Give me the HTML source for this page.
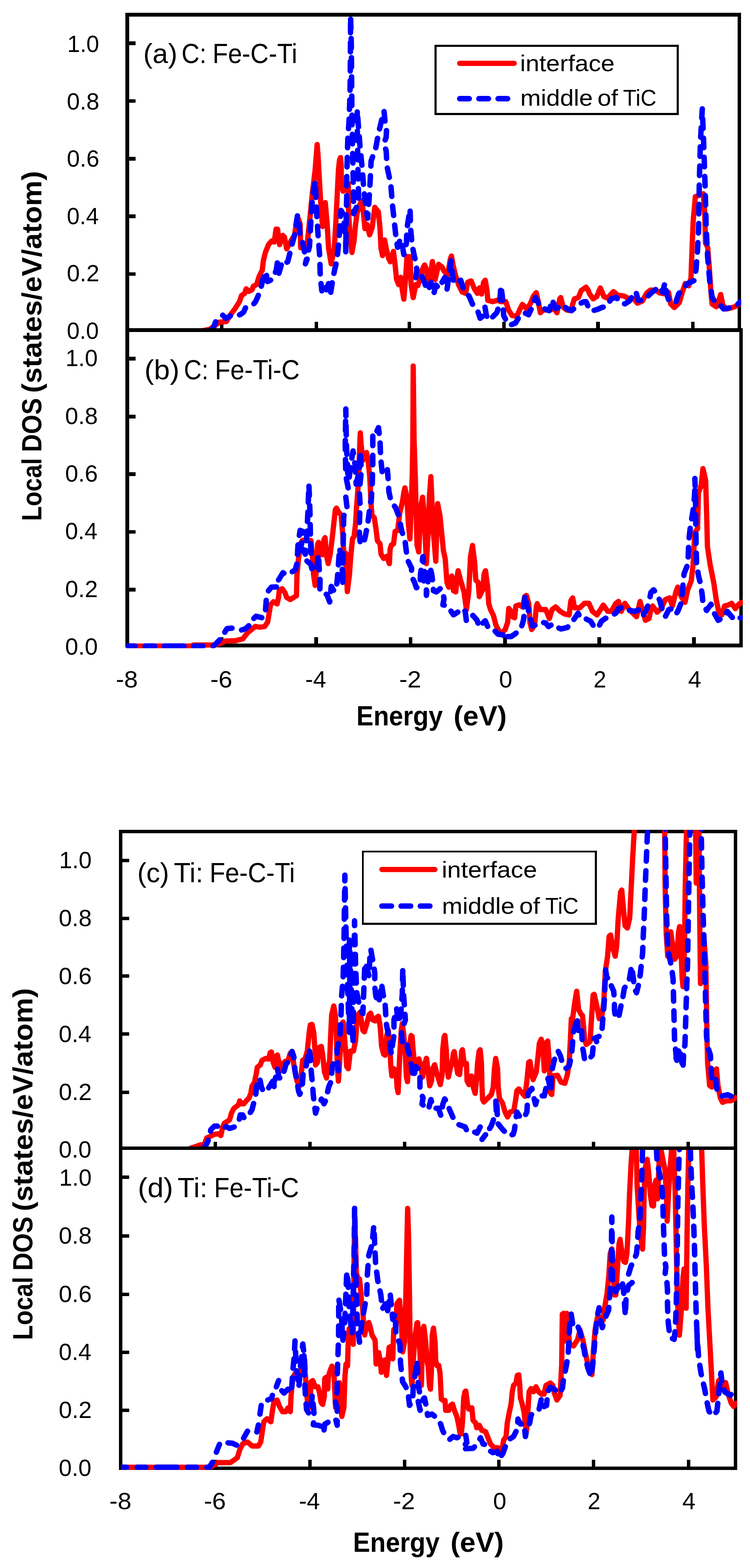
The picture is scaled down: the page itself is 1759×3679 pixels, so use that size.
<!DOCTYPE html>
<html lang="en"><head><meta charset="utf-8"><title>Local DOS</title>
<style>
html,body{margin:0;padding:0;background:#fff}
body{width:1759px;height:3679px;overflow:hidden}
svg{display:block}
text{font-family:"Liberation Sans",sans-serif;fill:#000}
.fr{fill:none;stroke:#000;stroke-linejoin:miter;shape-rendering:crispEdges}
.bg{fill:#fff;shape-rendering:crispEdges}
.t{stroke:#000;fill:none;shape-rendering:crispEdges}
.r{fill:none;stroke:#f00;stroke-width:12.4px;stroke-linejoin:round;stroke-linecap:round}
.b{fill:none;stroke:#00f;stroke-width:12.8px;stroke-linejoin:round;stroke-linecap:round;stroke-dasharray:22.5 22.5}
.s{stroke-dasharray:none}
</style></head><body>
<svg width="1759" height="3679" viewBox="0 0 1759 3679">
<rect x="0" y="0" width="1759" height="3679" fill="#fff"/>
<defs>
<clipPath id="cpa"><rect x="294.1" y="30.1" width="1444.2" height="748.7"/></clipPath>
<clipPath id="cpb"><rect x="296" y="770.1" width="1446.3" height="750.8"/></clipPath>
<clipPath id="cpc"><rect x="279.3" y="1947.2" width="1449.3" height="750.7"/></clipPath>
<clipPath id="cpd"><rect x="283.8" y="2697.9" width="1444.8" height="750.9"/></clipPath>
</defs>
<g id="panel-a" stroke-width="8.7">
<rect class="bg" x="294.1" y="30.1" width="1444.2" height="748.7"/>
<rect class="fr" x="298.5" y="34.5" width="1435.5" height="740"/>
<path class="t" d="M298.5 101.8h19.4M298.5 236.9h19.4M298.5 372.4h19.4M298.5 507.7h19.4M298.5 643h19.4M520 774.5v-19.5M742 774.5v-19.5M960 774.5v-19.5M1181.9 774.5v-19.5M1402.7 774.5v-19.5M1625 774.5v-19.5"/>
<g clip-path="url(#cpa)">
<path class="r" d="M472.7 776.2L480 775L492.2 772.5L504.3 764L514.1 756L531.1 754.3L539.7 739.7L550.6 725.1L561.6 708L566.4 693.4L573.7 688.5L577.4 677.6L583.5 683.7L590.8 680L594.4 671.5L601.7 667.8L607.8 648.4L615.1 633.7L617.6 611.8L622.4 592.4L629.7 574.1L637 565.6L643.1 568L647.5 537.6L650.9 537.6L655.8 574.1L663.1 552.2L667 555.8L672.4 583.8L682.1 565.6L690.6 552.2L695.5 521.7L700.4 514.4L704 526.6L705.1 581.4L713.6 581.4L720.9 568L727 509.6L733.1 448.7L739 400L741.9 363.5L743.8 339.1L745.8 363.5L749.9 436.5L753.6 497.4L756.5 531.5L759.7 497.4L762.8 475.5L767 521.7L770.6 582.6L776.7 619.1L784 582.6L787.7 521.7L791.3 448.7L793.7 400L796.2 375.7L798.6 369.6L800.1 385.4L800.6 428L804.7 448.7L809.6 439L816.9 430.2L817.4 497.4L820.5 546.1L825.4 592.4L830.3 565.6L833.9 526.6L837.6 499.8L843.7 480.4L848.5 470.6L852.2 497.4L855.8 536.4L860.7 526.6L866.8 551L872.9 533.9L879 486.4L887.5 497.4L891.1 533.9L893.6 582.6L897.2 599.7L902.1 563.1L905.7 582.6L911.8 607L915.5 614.3L922.8 589.9L926.4 619.1L930.1 655.7L935 667.8L939.8 650.8L943.5 680L947.1 701.9L952 643.5L954.4 602.1L961.7 602.1L964.2 667.8L969.1 698.3L975.1 667.8L980 670.3L984.9 655.7L991 631.3L995.8 621.6L1000 631.3L1002.7 652.6L1007.6 662.3L1014.1 613.6L1020.6 655.8L1028.7 620.1L1036.8 626.6L1041.7 636.4L1049.8 646.1L1056.3 607.1L1058.9 600.6L1062.8 623.4L1069.3 649.4L1075.8 668.8L1083.9 685.1L1092 688.3L1096.9 662.3L1105 659.1L1113.1 678.6L1119.6 688.3L1124.5 675.3L1129.4 689.9L1134.2 662.3L1138.1 657.5L1142.3 681.8L1144 704.5L1155.3 707.8L1166.7 704.5L1174.8 707.8L1186.2 707.8L1192.7 727.3L1200.8 740.3L1212.1 741.9L1218.6 727.3L1225.1 714.3L1234.9 724L1243 714.3L1251.1 694.8L1257.6 686.7L1262.5 707.8L1267.3 733.8L1273.8 727.3L1288.4 727.3L1299.8 724L1306.3 733.8L1312.8 701.3L1315.1 698.1L1320.9 720.8L1329 727.3L1338.8 728.9L1346.9 701.3L1356.6 698.1L1363.1 681.8L1374.5 673.7L1380 681.8L1382.5 689.2L1391 701.1L1399.5 696L1408 675.6L1416.5 696L1425 699.4L1438.6 684.1L1448.8 692.6L1462.4 694.3L1476.1 701.1L1486.3 701.1L1494.8 711.3L1506.7 706.2L1516.9 687.5L1525.4 680.7L1537.3 680.7L1547.5 687.5L1557.7 689.2L1567.9 685.8L1573 713L1581.5 721.5L1593.4 709.6L1600.2 685.8L1607 665.4L1615.5 670.5L1620.6 651.8L1622.3 604.1L1625.7 519.1L1630.8 461.3L1641 457.9L1649.5 454.5L1652.9 502.1L1654.6 570.1L1659.7 580.3L1663.1 621.2L1666.5 672.2L1669.9 713L1680.1 719.8L1685.2 706.2L1690.3 690.9L1695.4 716.4L1703.9 724.9L1712.4 723.2L1722.7 719.8L1734.6 713"/>
<path class="b" d="M494.6 773.8L499.5 770.1L506.8 753.1L514.1 745.8L522.6 739.7L529.9 747L543.3 739.7L553 740.9L562.8 738.4L571.3 732.4L576.2 721.4L584.7 719L592 716.5L599.3 708L604.2 697.1L609 684.9L611.5 677.6L616.4 655.7L623.7 637.4L627.3 660.5L633.4 658.1L639.5 654.4L648 633.7L650.4 616.7L654.1 641.1L662.6 611.8L669.9 616.7L674.8 614.3L679.7 594.8L683.3 580.2L685.7 570.4L691.8 548.5L694.3 526.6L697.9 504.7L701.6 529L704 551L707.7 565.6L710.1 570.4L715 594.8L723.5 599.7L716.2 619.1L725.9 577.7L729.6 509.6L733.2 460.9L739.3 424.3L741.4 473L743.3 512L746.3 555.8L749.9 602.1L751.1 648.4L754.8 682.4L760.9 665.4L765.7 680L770.6 665.4L775.5 687.3L780.4 655.7L785.2 631.3L790.1 611.8L793.7 575.3L796.2 546.1L797.4 521.7L799.8 493.7L804.7 502.3L808.4 536.4L810.8 560.7L811 592.4L812 504.7L813.2 460.9L813.2 417L814.4 370.9L815.7 327.1L818.8 280.8L820.3 237L821.3 190.7L822 103L822.2 38.5L823.9 103L824.7 190.7L825.2 249.1L825.9 297.8L826.9 346.5L827.8 395.2L828.8 443.9L829.5 501.4L835.1 487.8L841.2 474.6L840.2 427.9L839 369.7L838.1 311.5L837.8 257.9L840 288.1L844.6 346.5L849.3 393L852.9 439.5L855.3 462.9L859.7 497.7L862.2 511.9L865.6 468.3L868 427.9L870.4 377.9L875.3 363.6L880.2 353.4L885 327.1L890.2 302.2L894.8 283.2L898.4 268.6L900.6 260.3L903.3 288.1L906.5 305.1L905.7 322.2L900.1 336.8L905.7 353.8L907.7 390.6L911.8 409.8L916.7 434.2L920.4 480.5L925.2 524.2L928.9 558.3L932.5 580.2L937.4 565.6L941.1 560.7L947.1 597.2L953.2 570.4L954.4 536.4L961.7 490.1L963 536.4L966.6 575.3L971.5 599.7L976.4 619.1L977.6 633.7L975.1 653.2L982.4 658.1L989.7 648.4L995.8 663L1000 677.6L1004.4 681.8L1010.8 662.3L1017.3 689.9L1022.2 668.8L1030.3 676.9L1036.8 662.3L1043.3 651L1048.2 680.2L1053.1 646.1L1057.9 612L1061.2 642.9L1064.4 665.6L1072.5 662.3L1080.6 657.5L1087.1 678.6L1100.1 694.8L1109.9 717.5L1121.2 732.1L1126.1 746.8L1134.2 740.3L1137.5 720.8L1140.7 740.3L1147.2 751.6L1165.1 733.8L1171.6 714.3L1174.8 670.5L1178.1 694.8L1181.3 740.3L1191 759.7L1195.9 763L1208.9 758.1L1218.6 741.9L1230 733.8L1239.7 738.6L1247.9 720.8L1256 698.1L1262.5 711L1269 724L1275.5 724L1288.4 728.9L1294.9 702.9L1303.1 724L1311.2 720.8L1319.3 714.3L1329 724L1340.4 728.9L1350.1 720.8L1359.9 712.7L1369.6 707.8L1374.5 707.8L1380 720.8L1385.9 730L1399.5 726.6L1411.4 721.5L1423.3 718.1L1433.5 701.1L1445.4 697.7L1455.6 711.3L1465.9 713L1476.1 706.2L1484.6 692.6L1491.4 684.1L1496.5 704.5L1510.1 704.5L1520.3 694.3L1527.1 687.5L1540.7 677.3L1547.5 672.2L1554.3 685.8L1559.4 663.7L1562.8 685.8L1567.9 702.8L1578.1 711.3L1584.9 709.6L1591.7 689.2L1601.9 679L1612.1 665.4L1627.4 658.6L1632.5 631.4L1635.9 587.1L1638.6 536.1L1640 434.1L1642.7 332L1647.1 255.5L1650.2 332L1653.6 434.1L1656.3 536.1L1659.7 604.1L1664.8 662L1669.9 696L1676.7 709.6L1686.9 713L1697.1 724.9L1707.3 723.2L1717.6 719.8L1727.8 716.4L1736.3 707.9"/>
</g>
</g>
<g id="panel-b" stroke-width="8.7">
<rect class="bg" x="294.1" y="770.1" width="1448.2" height="748.7"/>
<rect class="fr" x="298.5" y="774.5" width="1439.5" height="740"/>
<path class="t" d="M298.5 841.7h19.4M298.5 977.4h19.4M298.5 1112.7h19.4M298.5 1247.9h19.4M298.5 1383.4h19.4M520 1514.5v-19.5M741.4 1514.5v-19.5M962.9 1514.5v-19.5M1184.3 1514.5v-19.5M1405.8 1514.5v-19.5M1627.3 1514.5v-19.5"/>
<g clip-path="url(#cpb)">
<path class="r" d="M290.2 1516L447.1 1516L453.9 1513.4L505 1513.4L518.7 1509L528.9 1503.9L552.8 1503.2L563 1500.5L569.8 1498.8L580 1485.1L590.3 1476.6L598.8 1469.8L609 1471.5L620.9 1469.8L627.8 1459.6L631.2 1439.1L634.6 1418.7L641.4 1411.8L649.9 1417L653.3 1401.6L655 1384.6L661.9 1381.2L668.7 1391.4L672.1 1401.6L680.6 1406.7L689.1 1401.6L695.3 1397.8L696.5 1349.1L700.2 1310.2L705 1276.1L708.7 1268.3L718.4 1266.4L729.4 1268.8L732.6 1300.4L735.5 1349.1L739.1 1373.5L742.8 1324.8L745.2 1276.1L747.2 1272.4L750.6 1295.6L756.2 1301.7L759.8 1266.4L762.3 1261.5L765.2 1300.4L769.6 1322.4L774.4 1300.4L779.3 1261.5L783 1227.4L786.6 1195.7L789 1192.1L795.1 1203L800 1207.9L803.7 1251.7L806.1 1295.6L811 1298L812.9 1349.1L814.6 1388.1L819.5 1349.1L823.1 1300.4L826.8 1263.9L830.4 1259L834.1 1227.4L835.8 1195.7L839 1154.3L841.4 1116.5L843.8 1043.5L845 1015.5L847 1043.5L851.1 1080L856 1067.8L859.7 1061.7L863.3 1080L867 1116.5L868.9 1153.1L869.9 1178.7L872.3 1207.9L877.9 1215.2L881.6 1239.6L885.2 1268.8L891.3 1276.1L893.7 1300.4L899.8 1310.2L907.1 1305.3L913.2 1322.4L914.9 1288.3L918.1 1278.5L923 1276.1L926.6 1246.9L932.7 1244.4L937.6 1203L943.7 1178.7L947.3 1154.3L949.7 1144.6L954.5 1168L957.3 1223.2L961.4 1264.6L964.2 1195.6L966.9 1112.8L968.3 1030L969.1 858.6L971.1 1030L973.8 1112.8L976.6 1223.2L978 1278.4L982.1 1294.9L987.6 1184.5L991.2 1166.6L995.9 1223.2L1000 1322.5L1004.2 1250.8L1006.9 1168L1010.5 1118.3L1013.8 1195.6L1016.6 1250.8L1022.1 1317L1024.9 1223.2L1026.3 1181.8L1031.8 1209.4L1035.9 1250.8L1040 1292.2L1044.2 1311.5L1048.3 1366.7L1052.5 1377.7L1059.4 1351.5L1063.5 1386L1069 1388.8L1071.8 1355.7L1074.5 1339.1L1080.1 1361.2L1088.3 1388.8L1093.9 1430.2L1099.4 1388.8L1103.5 1306L1108.2 1279.8L1113.2 1319.8L1115.9 1361.2L1121.5 1366.7L1124.2 1399.8L1132.5 1383.2L1135.3 1347.4L1138.6 1339.1L1143.5 1375L1146.3 1416.4L1150.4 1430.2L1157.3 1444L1162.9 1466L1171.1 1482.6L1176.7 1485.4L1184.9 1477.1L1190.5 1460.5L1193.2 1427.4L1197.4 1432.9L1201.5 1446.7L1207 1449.5L1209.8 1421.9L1218.1 1419.1L1226.3 1424.6L1230.5 1399.8L1234.6 1397L1240.1 1416.4L1242.9 1460.5L1247 1477.1L1253.9 1466L1258.1 1421.9L1260 1416.4L1261.1 1419.7L1267.4 1430.2L1280 1430.2L1288.4 1451.3L1294.8 1430.2L1303.2 1423.9L1313.7 1434.4L1324.3 1440.7L1334.8 1442.8L1339 1409.1L1343.2 1402.8L1347.4 1426L1360.1 1426L1370.6 1415.5L1381.1 1415.5L1389.5 1434.4L1400.1 1442.8L1408.5 1430.2L1414.8 1419.7L1425.4 1434.4L1433.8 1434.4L1444.3 1415.5L1450.6 1411.2L1457 1434.4L1465.4 1415.5L1475.9 1430.2L1484.3 1438.6L1492.8 1447.1L1501.2 1411.2L1507.5 1434.4L1513.8 1455.5L1522.2 1451.3L1526.5 1430.2L1530.7 1421.8L1541.2 1436.5L1551.7 1426L1560.2 1407L1570.7 1402.8L1577 1421.8L1585.4 1388.1L1589.7 1377.5L1598.1 1400.7L1606.5 1413.4L1612.8 1383.9L1621.2 1362.8L1625.5 1324.9L1627.6 1282.8L1629.7 1249.1L1636 1240.6L1638.1 1156.4L1644.4 1139.5L1648.6 1099.5L1654.9 1126.9L1657.1 1198.5L1659.2 1282.8L1665.5 1324.9L1673.9 1367L1680.2 1409.1L1686.5 1438.6L1692.9 1442.8L1699.2 1421.8L1707.6 1419.7L1716 1415.5L1724.5 1428.1L1732.9 1417.6L1739.2 1413.4"/>
<path class="b s" d="M290.2 1516L316.8 1516"/>
<path class="b s" d="M340.3 1516L362.9 1516"/>
<path class="b s" d="M385.4 1516L431.7 1516"/>
<path class="b s" d="M454.6 1516L476 1516"/>
<path class="b s" d="M499.9 1516L506.7 1510L515.3 1501.2"/>
<path class="b s" d="M527.2 1483.4L532.3 1474.9L544.2 1473.9"/>
<path class="b s" d="M566.4 1478.3L576.6 1474.9L583.4 1468.1"/>
<path class="b s" d="M595.4 1451.1L600.5 1445.9L614.1 1449.3"/>
<path class="b s" d="M622.7 1430.6L624.4 1408.4"/>
<path class="b s" d="M629.5 1386.3L636.3 1377.7L648.2 1377.1"/>
<path class="b" d="M653.3 1360.7L663.6 1343.7L672.1 1348.8L682.3 1343.7L692.5 1336.8L696.5 1322.4L699 1276.1L703.8 1244.4L709.9 1246.9L707.5 1276.1L699 1298L708.7 1285.8L716 1300.4L718.4 1276.1L722.1 1203L724.5 1137.3L727 1203L728.2 1266.4L729.4 1300.4L718.4 1315L729.4 1324.8L733 1341.8L742.8 1332.1L747.2 1300.4L748.1 1324.8L750.6 1361.3L750.1 1388.1L759.8 1391.7L767.1 1395.4L773.2 1412.4L776.9 1375.9L784.2 1388.1L790.3 1368.6L792.7 1339.4L796.4 1285.8L802.4 1324.8L803.7 1373.5L804.9 1276.1L806.1 1210.4L814.6 1195.7L811 1166.5L817 1147L811 1116.5L809.7 1043.5L811 959.5L812.4 1043.5L815.8 1116.5L818.3 1126.3L823.1 1087.3L828 1058.1L832.9 1092.2L835.3 1136L842.6 1104.4L845 1060.5L847.5 1104.4L842.6 1153.1L845 1189.6L843.8 1200.6L842.6 1246.9L845 1276.1L852.4 1276.1L857.2 1256.6L863.3 1222.5L869.4 1176.3L870.6 1177.4L873.1 1133.6L874.3 1089.7L874.3 1043.5L874.3 1014.3L881.6 1016.7L887.7 1003.3L891.3 1033.7L892.5 1067.8L893.7 1082.4L896.2 1106.8L903.5 1114.1L908.4 1101.9L910.8 1128.7L912 1153.1L915.7 1170.1L918.1 1178.7L927.8 1190.9L935.1 1210.4L940 1234.7L942.4 1246.9L949.7 1266.4L950.4 1272.9L953.1 1294.9L957.3 1317L965.5 1333.6L964.2 1350.1L972.4 1366.7L976.6 1379.1L984.9 1375L986.2 1347.4L991.8 1306L995.9 1341.9L993.1 1361.2L1000 1375L1000 1397L1004.2 1361.2L1008.3 1329.4L1012.5 1347.4L1015.2 1366.7L1016.6 1386L1023.5 1388.8L1033.2 1380.5L1038.7 1388.8L1041.4 1405.3L1038.7 1419.1L1049.7 1421.9L1060.7 1438.4L1063.5 1442.6L1074.5 1435.7L1082.8 1427.4L1091.1 1434.3L1093.9 1457.8L1102.1 1452.2L1109 1444L1118.7 1455L1124.2 1471.6L1131.1 1463.3L1138 1456.4L1146.3 1475.7L1153.2 1477.1L1160.1 1479.8L1168.4 1488.1L1179.4 1489.5L1186.3 1501.9L1190.5 1493.6L1198.7 1493.6L1207 1488.1L1213.9 1482.6L1220.8 1477.1L1225 1464.7L1227.7 1455L1229.1 1444L1229.1 1416.4L1231.9 1395.7L1236 1421.9L1240.1 1430.2L1237.4 1444L1245.7 1455L1248.4 1468.8L1260 1466L1269.5 1459.7L1280 1461.8L1286.3 1470.2L1296.9 1463.9L1307.4 1472.3L1315.8 1475.7L1330.6 1472.3L1341.1 1459.7L1347.4 1451.3L1355.8 1438.6L1362.2 1451.3L1372.7 1451.3L1385.3 1457.6L1391.7 1468.1L1402.2 1474.4L1410.6 1457.6L1419 1451.3L1429.6 1447.1L1444.3 1438.6L1450.6 1428.1L1463.3 1423.9L1475.9 1432.3L1488.5 1434.4L1501.2 1430.2L1507.5 1444.9L1515.9 1430.2L1522.2 1413.4L1526.5 1390.2L1532.8 1383.9L1538.3 1390.2L1547.5 1409.1L1553.8 1432.3L1560.2 1447.1L1568.6 1430.2L1577 1428.1L1585.4 1440.7L1589.7 1434.4L1598.1 1413.4L1600.2 1392.3L1602.3 1367L1604.4 1345.9L1612.8 1324.9L1614.1 1303.8L1614.9 1282.8L1616.2 1261.7L1619.1 1236.4L1622.5 1215.4L1626.7 1190.1L1628.4 1169L1629.7 1148L1629.7 1122.7L1630.9 1156.4L1631.8 1219.6L1632.6 1282.8L1633.9 1324.9L1638.1 1350.2L1642.3 1367L1646.5 1392.3L1648.6 1413.4L1657.1 1432.3L1667.6 1417.6L1673.9 1436.5L1684.4 1455.5L1699.2 1447.1L1705.5 1434.4L1716 1447.1L1724.5 1455.5L1737.1 1449.2"/>
</g>
</g>
<g id="panel-c" stroke-width="8.0">
<rect class="bg" x="279.3" y="1947.2" width="1449.3" height="750.7"/>
<rect class="fr" x="283.3" y="1951.2" width="1441.3" height="742.7"/>
<path class="t" d="M283.3 2018.9h19.4M283.3 2155h19.4M283.3 2290.3h19.4M283.3 2425.7h19.4M283.3 2562.5h19.4M505 2693.9v-15.0M726.8 2693.9v-15.0M948.5 2693.9v-15.0M1170.3 2693.9v-15.0M1392 2693.9v-15.0M1613.7 2693.9v-15.0"/>
<g clip-path="url(#cpc)">
<path class="r" d="M447.6 2693.8L455.9 2691.3L469.7 2686.4L479.3 2685L484.9 2669.8L491.8 2667L502.8 2661.5L512.5 2660.1L518 2664.3L522.1 2645L526.3 2635.3L533.2 2631.2L538.7 2627L542.8 2611.9L548.3 2600.8L555.2 2595.3L559.4 2592.5L562.1 2582.9L566.3 2589.8L571.8 2589.8L578.7 2581.5L584.2 2576L588.3 2564.9L591.1 2548.4L596.6 2540.1L600.8 2520.8L603.5 2504.2L610.4 2498.7L614.6 2487.7L622.8 2483.5L629.7 2484.9L633.9 2469.7L636.6 2468.3L640.8 2493.2L644.9 2504.2L647.7 2479.4L650.4 2475.2L654.6 2493.2L657.3 2512.5L661.5 2498.7L668.4 2490.4L673.9 2493.2L680.8 2471.1L684.9 2468.3L690.5 2507L696 2534.6L701.5 2548.4L705.6 2545.6L707 2515.3L709.8 2487.7L715.3 2484.9L720.8 2465.6L725 2424.2L727.7 2404.9L731.9 2403.5L736 2424.2L738.8 2465.6L740.1 2498.7L744.3 2493.2L747 2462.8L748.7 2457.6L753.6 2455.1L757.2 2478.3L760.9 2514.8L765.7 2529.4L769.4 2502.6L773 2490.5L775.5 2429.6L777.9 2380.9L782.8 2360.2L786.4 2380.9L788.9 2429.6L791.3 2502.6L793.7 2536.7L797.4 2478.3L801 2405.2L804.7 2397.9L809.6 2453.9L813.2 2502.6L816.9 2507.5L821.7 2466.1L829 2466.1L833.9 2441.8L836.4 2405.2L840 2380.9L843.7 2376L847.3 2393.1L851 2417.4L854.6 2421.1L860.7 2400.4L865.6 2380.9L869.2 2377.2L874.1 2393.1L880.2 2395.5L883.8 2387L887.5 2384.5L891.1 2405.2L892.4 2417.4L894.8 2453.9L899.7 2473.4L903.3 2475.8L907 2429.6L910.6 2417.4L914.3 2453.9L916.7 2502.6L919.1 2524.5L924 2507.5L928.9 2514.8L931.3 2551.3L933.7 2563.5L937.4 2478.3L941.1 2417.4L943.5 2401.6L947.1 2429.6L950.8 2478.3L953.2 2527L955.7 2537.9L958.1 2502.6L960.5 2453.9L964.2 2429.6L966.6 2432L969.1 2466.1L972.7 2502.6L977.6 2490.5L982.4 2484.4L987.3 2502.6L991 2527L994.6 2502.6L1000 2483.1L1000.5 2483.4L1004.8 2521.4L1007.8 2547.7L1012.1 2536L1015.1 2506.8L1019.4 2498.1L1023.8 2515.6L1028.2 2530.2L1032.6 2544.8L1037 2521.4L1038.4 2463L1041.4 2433.8L1043.4 2429.4L1046.6 2463L1048.7 2506.8L1051.6 2527.3L1056 2506.8L1060.4 2492.2L1063.3 2471.8L1065.3 2467.4L1069.1 2492.2L1073.5 2518.5L1077.9 2521.4L1080.8 2492.2L1082.9 2465.9L1084.6 2463L1088.1 2492.2L1091 2498.1L1094 2495.1L1095.4 2536L1099.8 2544.8L1105.7 2524.4L1110 2550.7L1114.4 2565.3L1117.3 2536L1120.3 2492.2L1123.8 2465.9L1126.1 2463L1129 2492.2L1130.5 2550.7L1131.9 2579.9L1134.9 2585.7L1143.6 2577L1152.4 2568.2L1156.8 2550.7L1159.7 2506.8L1162.6 2483.4L1167 2506.8L1168.5 2550.7L1171.4 2577L1178.7 2588.6L1184.5 2609.1L1190.4 2620.8L1196.2 2609.1L1205 2606.2L1209.4 2579.9L1212.3 2559.4L1216.7 2555L1224 2563.8L1231.3 2572.6L1235.7 2536L1240.1 2492.2L1243 2490.7L1247.4 2521.4L1250.3 2533.1L1257.6 2515.6L1262 2477.6L1264.9 2448.4L1269.3 2438.2L1273.7 2463L1276.6 2512.7L1279.5 2463L1281.6 2445.5L1284.5 2442.5L1288.3 2492.2L1291.2 2565.3L1294.1 2568.2L1297 2524.4L1307.3 2522.9L1316 2539L1324.8 2541.9L1330.7 2521.4L1335 2492.2L1338 2433.8L1340 2389.9L1341.1 2404.3L1348.2 2350.7L1352.5 2325.7L1357.1 2368.6L1362.5 2379.3L1366.1 2382.9L1371.4 2440L1375 2450.7L1383.9 2443.6L1387.5 2386.4L1391.1 2334.6L1393.6 2332.9L1400 2361.4L1405.4 2390L1410.7 2390L1416.1 2350.7L1419.6 2279.3L1425 2243.6L1428.6 2197.1L1432.1 2193.6L1437.5 2225.7L1442.9 2243.6L1446.4 2218.6L1450 2154.3L1455.4 2093.6L1458.2 2088.2L1462.5 2136.4L1466.1 2172.1L1471.4 2177.5L1476.8 2154.3L1480.4 2082.9L1483.9 2011.4L1487.5 1950.7L1491.1 1832.9"/>
<path class="r" d="M1557.9 1832.9L1558.9 1950.7L1560 2082.9L1562.5 2190L1566.1 2243.6L1573.2 2186.4L1578.6 2225.7L1582.1 2250.7L1587.5 2243.6L1591.1 2190L1593.9 2173.9L1597.1 2225.7L1600 2297.1L1601.8 2315L1605.4 2225.7L1607.1 2082.9L1610 1950.7L1611.4 1832.9"/>
<path class="r" d="M1630.4 1832.9L1631.4 1950.7L1632.9 2072.1L1634.3 1950.7L1635.7 1832.9"/>
<path class="r" d="M1638.6 1832.9L1639.3 1950.7L1641.1 2154.3L1642.9 2307.9L1648.2 2243.6L1651.8 2211.4L1655.4 2261.4L1657.1 2368.6L1658.2 2440L1659.6 2493.6L1664.3 2547.1L1669.6 2550.7L1676.8 2529.3L1680.4 2507.9L1683.9 2547.1L1689.3 2575.7L1694.6 2586.4L1703.6 2582.9L1714.3 2582.9L1725 2575.7"/>
<path class="b" d="M476.6 2694.6L479.3 2691.9L484.9 2683.6L490.4 2671.2L494.5 2650.5L502.8 2642.2L509.7 2642.2L515.2 2649.1L530.4 2643.6L538.7 2647.7L551.1 2643.6L560.7 2628.4L563.5 2616L569 2616L573.2 2624.3L584.2 2614.6L591.1 2603.6L593.9 2592.5L599.4 2571.8L602.1 2548.4L609 2529.1L613.2 2551.1L618.7 2562.2L627 2558L632.5 2548.4L639.4 2537.3L643.5 2556.7L642.2 2540.1L646.3 2529.1L650.4 2507L654.6 2529.1L662.9 2529.1L665.6 2515.3L671.1 2495.9L678 2490.4L680.8 2476.6L684.9 2467L689.1 2479.4L690.5 2493.2L691.8 2512.5L696 2534.6L700.1 2559.4L702.9 2567.7L708.4 2556.7L709.8 2534.6L711.2 2515.3L716.7 2509.7L719.4 2493.2L723.6 2465.6L725 2461.4L727.7 2479.4L729.1 2501.5L730.5 2520.8L733.2 2545.6L734.6 2567.7L737.4 2592.5L740.1 2611.9L744.3 2598.1L748.4 2592.5L753.9 2578.7L760 2589.8L764.5 2580.5L770.6 2551.3L776.7 2536.7L779.1 2502.6L782.8 2492.9L793.7 2512.4L790.1 2466.1L797.4 2429.6L799.8 2383.3L801 2339.5L804.7 2295.7L805.9 2249.4L807.1 2186.1L808.8 2053.4L812 2210.4L815.7 2332.2L819.3 2424.7L820.5 2283.5L819.3 2205.6L824.2 2332.2L827.8 2449.1L830.3 2283.5L831.5 2160.5L833.9 2259.1L836.4 2327.3L840 2344.4L843.7 2363.8L851 2378.4L853.4 2320L855.8 2259.1L860.7 2271.3L865.6 2290.8L868 2234.8L869.7 2227.5L872.9 2247L875.3 2256.7L879 2283.5L879 2315.1L881.4 2337.1L887.5 2354.1L892.4 2332.2L894.8 2307.8L898.4 2332.2L903.3 2356.5L904.5 2376L905.7 2400.4L909.4 2419.8L913.1 2441.8L917.9 2473.4L920.4 2451.5L924 2429.6L924 2393.1L930.1 2366.3L933.7 2400.4L939.8 2380.9L943.5 2332.2L944.7 2272.5L946.4 2332.2L950.8 2393.1L941.1 2419.8L943.5 2444.2L953.2 2439.3L955.7 2458.8L960.5 2475.8L965.4 2502.6L970.3 2529.4L975.1 2502.6L981.2 2507.5L984.9 2522.1L984.9 2551.3L987.3 2565.9L992.2 2575.7L989.7 2590.3L1000 2600L1004.8 2603.2L1010.7 2579.9L1016.5 2600.3L1028.2 2600.3L1034.1 2617.9L1038.4 2591.6L1042.8 2578.4L1048.7 2585.7L1053.1 2600.3L1061.8 2620.8L1069.1 2631L1075 2638.3L1091 2644.2L1095.4 2654.4L1108.6 2654.4L1118.8 2658.8L1126.1 2644.2L1139.3 2661.7L1130.5 2673.4L1143.6 2655.8L1152.4 2641.2L1159.7 2620.8L1164.1 2609.1L1162.6 2577L1165.6 2594.5L1167 2635.4L1178.7 2650L1193.3 2664.6L1203.5 2661.7L1206.5 2651.5L1209.4 2629.5L1212.3 2609.1L1222.5 2625.2L1231.3 2617.9L1235.7 2609.1L1237.1 2585.7L1238.6 2565.3L1247.4 2553.6L1251.8 2574L1256.1 2591.6L1262 2571.1L1276.6 2571.1L1281 2550.7L1285.4 2530.2L1292.7 2562.3L1292.7 2536L1295.6 2506.8L1298.5 2493.7L1304.4 2471.8L1308.7 2465.9L1314.6 2477.6L1320.4 2501L1327.7 2506.8L1335 2501L1340 2477.6L1341.1 2468.6L1342.9 2447.1L1344.6 2422.1L1350 2404.3L1353.6 2386.4L1357.1 2429.3L1364.3 2418.6L1366.1 2457.9L1367.9 2465L1371.4 2488.2L1380.4 2486.4L1389.3 2475.7L1391.1 2457.9L1401.8 2454.3L1398.2 2440L1393.6 2436.4L1410.7 2429.3L1412.5 2407.9L1414.3 2386.4L1416.1 2365L1417.9 2340L1418.6 2315L1420.4 2275.7L1423.2 2293.6L1430.4 2297.1L1432.1 2309.6L1439.3 2325.7L1441.1 2347.1L1441.1 2368.6L1443.6 2390L1451.8 2382.9L1455.4 2365L1460.7 2340L1464.3 2318.6L1475 2304.3L1478.6 2282.9L1481.4 2266.8L1485.7 2297.1L1487.5 2318.6L1492.9 2329.3L1498.2 2307.9L1501.8 2284.6L1504.3 2261.4L1507.1 2236.4L1508.9 2190L1510.7 2154.3L1513.2 2082.9L1516.1 2011.4L1518.6 1950.7L1520.7 1832.9"/>
<path class="b" d="M1559.3 1832.9L1560 1950.7L1561.8 2047.1L1563.6 2154.3L1566.1 2225.7L1569.6 2243.6L1575 2268.6L1578.6 2297.1L1580.4 2368.6L1582.1 2440L1585.7 2475.7L1585.7 2497.1L1592.9 2457.9L1596.4 2475.7L1601.8 2507.9L1603.6 2468.6L1606.4 2450.7L1607.9 2404.3L1610 2332.9L1612.5 2261.4L1614.3 2154.3L1616.1 2047.1L1617.9 1950.7L1618.9 1832.9"/>
<path class="b" d="M1643.9 1832.9L1644.6 1950.7L1646.4 2047.1L1649.3 2154.3L1651.8 2225.7L1653.6 2297.1L1655.4 2368.6L1657.1 2432.9L1660.7 2457.9L1666.1 2475.7L1667.9 2504.3L1669.6 2540L1678.6 2532.9L1682.1 2561.4L1691.1 2572.1L1707.1 2568.6L1714.3 2572.1L1723.2 2565"/>
</g>
</g>
<g id="panel-d" stroke-width="8.0">
<rect class="bg" x="279.3" y="2689.9" width="1449.3" height="759"/>
<rect class="fr" x="283.3" y="2693.9" width="1441.3" height="751"/>
<path class="t" d="M283.3 2762.2h19.4M283.3 2899.6h19.4M283.3 3037h19.4M283.3 3173.4h19.4M283.3 3309h19.4M505 3444.9v-19.5M726.8 3444.9v-19.5M948.5 3444.9v-19.5M1170.3 3444.9v-19.5M1392 3444.9v-19.5M1614.5 3444.9v-19.5"/>
<g clip-path="url(#cpd)">
<path class="r" d="M277.3 3442.7L492.8 3442.7L503.8 3436.5L511.1 3431.7L540.3 3431.7L549.4 3425.5L556.7 3420L562.2 3401.8L569.5 3387.2L580.5 3383.5L591.4 3392.7L606 3392.7L611.5 3383.5L615.2 3358L618.8 3336L626.1 3328.7L635.3 3336L638.9 3310.5L642.6 3288.6L649.9 3284.9L655.3 3299.5L662.7 3312.3L670 3312.3L675.4 3303.2L680.9 3312.3L682.7 3273.9L686.4 3233.8L692.2 3222.3L700.7 3227.1L708 3205.2L712.9 3200.4L716.5 3229.6L719 3266.1L721.4 3290.5L725 3302.6L727.5 3278.3L729.9 3241.8L733.6 3239.3L739.7 3253.9L745.7 3253.9L749.4 3268.5L753 3290.5L756.7 3295.3L760.4 3278.3L761.6 3234.4L764 3232L768.9 3258.8L770.1 3229.6L773.7 3217.4L778.6 3205.2L783.5 3229.6L787.1 3302.6L792 3278.3L795.7 3244.2L799.3 3302.6L801.7 3323.3L806.6 3302.6L809 3229.6L811.5 3200.4L815.1 3205.2L816.4 3156.5L818.8 3117.6L823.7 3115.1L827.3 3132.2L828.5 3154.1L829.5 3034.8L831 2913L832.2 2854.6L833.9 2913L835.8 2986.1L839.5 3000.7L843.1 3000.7L846.8 3034.8L848 3059.1L850.4 3066.4L852.9 3107.8L855.3 3132.2L860.2 3107.8L865 3103L868.7 3115.1L872.4 3132.2L879.7 3144.4L880.9 3168.7L882.1 3200.4L888.2 3173.6L891.8 3193.1L894.3 3219.8L899.1 3193.1L902.8 3190.6L906.4 3227.1L910.1 3193.1L912.5 3161.4L917.4 3159L921.1 3188.2L923.5 3120L928.4 3115.1L930.8 3059.1L936.9 3050.6L941.5 3104.5L944.4 3171.8L948.8 3148.4L951.7 3046.1L954.6 2900L956.1 2835.1L958.1 2900L960.5 3046.1L961.9 3163L964.8 3236L966.3 3250.7L969.2 3192.2L973.6 3133.8L978 3104.5L979.4 3103.1L983.8 3148.4L986.8 3221.4L988.2 3250.7L989.7 3192.2L992 3119.2L994.1 3111.9L998.4 3148.4L1001.4 3192.2L1004.3 3206.8L1007.2 3250.7L1009.5 3259.4L1011.6 3221.4L1013.6 3133.8L1016.6 3116.2L1020.4 3148.4L1021.8 3192.2L1024.7 3203.9L1029.1 3203.9L1032 3221.4L1033.5 3250.7L1035 3282.8L1039.4 3285.7L1043.7 3285.7L1045.2 3309.1L1052.5 3309.1L1056.9 3297.4L1061.3 3294.5L1065.7 3309.1L1071.5 3323.7L1075.9 3344.2L1078.8 3361.7L1081.7 3364.6L1084.6 3338.3L1087.6 3279.9L1090.5 3265.3L1092.5 3263.8L1096.3 3294.5L1099.3 3306.2L1106.6 3303.2L1109.5 3332.5L1115.3 3338.3L1118.2 3350L1124.1 3344.2L1129.9 3355.8L1138.7 3358.8L1144.5 3373.4L1150.4 3388L1159.2 3396.8L1167.9 3396.8L1173.8 3402.6L1178.2 3396.8L1181.1 3379.2L1186.9 3370.5L1189.8 3338.3L1194.2 3314.9L1198.6 3294.5L1201.5 3265.3L1204.4 3250.7L1210.3 3244.8L1213.2 3227.3L1216.7 3225.8L1219.1 3250.7L1220.5 3279.9L1224.9 3294.5L1229.3 3314.9L1232.2 3344.2L1235.1 3355.8L1238.1 3309.1L1241 3265.3L1245.4 3258L1251.2 3265.3L1257 3253.6L1262.9 3265.3L1270.2 3271.1L1276 3271.1L1280.4 3250.7L1290.7 3244.8L1296.5 3250.7L1300 3268.2L1306.1 3284.9L1313.6 3273.7L1317.3 3202.7L1318.8 3083.2L1321.8 3081.4L1323.3 3146.7L1326.3 3083.2L1329.3 3081.4L1332.3 3109.4L1336 3154.2L1345.3 3157.9L1354.7 3143L1360.3 3120.6L1367.7 3146.7L1373.3 3176.6L1380.8 3210.2L1388.3 3225.1L1392 3165.4L1395.7 3120.6L1401.3 3090.7L1408.8 3090.7L1414.4 3098.2L1418.1 3068.3L1423.7 3034.7L1427.5 2997.4L1431.2 2941.4L1434.9 2930.2L1438.7 2978.7L1440.5 3038.4L1444.3 3038.4L1448 2978.7L1451.8 2919L1454.4 2907.8L1459.2 2941.4L1463 2960L1466.7 2961.9L1470.4 2941.4L1474.2 2866.7L1476.5 2801.7L1480.2 2728.7L1482.6 2697.5L1484.3 2607"/>
<path class="r" d="M1491.6 2607L1492.3 2697.5L1494.1 2777.4L1498.4 2850.4L1502.1 2899.1L1507 2930.8L1509.4 2874.8L1510.6 2801.7L1513 2740.9L1517.9 2720.2L1521.6 2753L1525.2 2801.7L1528.9 2828.5L1532.5 2829.7L1536.2 2777.4L1538.6 2768.9L1542.3 2812.7L1544.7 2753L1547.1 2697.5L1548.4 2607"/>
<path class="r" d="M1549.6 2607L1550.1 2697.5L1559.3 2743.3L1563 2801.7L1564.7 2865L1567.8 2801.7L1571.5 2740.9L1575.1 2697.5L1576.4 2607"/>
<path class="r" d="M1579.3 2607L1580 2697.5L1583.7 2801.7L1586.1 2923.5L1588.5 3045.2L1593.4 3132.9L1598.3 3069.6L1601.9 2996.5L1604.4 2977.1L1608 3045.2L1609.2 3069.6L1610.4 2972.2L1611.7 2874.8L1613.4 2777.4L1615.3 2697.5L1616.5 2607"/>
<path class="r" d="M1644.5 2607L1645.7 2697.5L1648.2 2777.4L1651.8 2874.8L1656.7 2972.2L1660.4 3069.6L1666.4 3179.9L1672 3284.9L1679.5 3277.4L1685.1 3240.1L1688.8 3236.3L1694.4 3258.7L1701.9 3243.8L1707.5 3269.9L1715 3292.3L1720.6 3299.8L1726.2 3292.3"/>
<path class="b s" d="M277.3 3442.7L296.7 3442.7"/>
<path class="b s" d="M321.9 3442.7L342.3 3442.7"/>
<path class="b s" d="M366.8 3442.7L415.4 3442.7"/>
<path class="b s" d="M439.8 3442.7L461 3442.7"/>
<path class="b s" d="M485.1 3442.7L491 3442.7L498.3 3431"/>
<path class="b s" d="M507.4 3407.3L514.7 3389"/>
<path class="b s" d="M534.8 3385.3L545.8 3386.4L554.9 3390.8"/>
<path class="b s" d="M571.3 3374.4L580.5 3358"/>
<path class="b s" d="M602.4 3359.8L606 3343.3"/>
<path class="b s" d="M609.7 3317.8L612.6 3297.7"/>
<path class="b s" d="M628 3284.9L637.1 3281.2L638.9 3273.9"/>
<path class="b s" d="M648 3253.9L653.5 3239.2"/>
<path class="b" d="M660.8 3263L666.3 3268.5L675.4 3259.3L680.9 3268.5L684.6 3252L686.4 3219.2L690 3182.6L691.9 3146.1L693.7 3182.6L695.5 3211.8L701 3255.7L704.7 3204.5L708.3 3175.3L710.1 3153.4L713.8 3182.6L715.6 3219.2L712.9 3180.9L714.1 3217.4L715.3 3253.9L716.5 3278.3L719 3307.5L725 3317.2L729.9 3302.6L732.3 3273.4L734.8 3297.8L737.2 3324.5L734.8 3342.8L745.7 3344L753 3346.5L759.1 3361.1L761.6 3341.6L770.1 3336.7L777.4 3331.8L787.1 3329.4L790.8 3344L790.8 3302.6L784.7 3283.1L790.8 3266.1L790.8 3229.6L792.5 3183.3L794 3139.5L794.4 3095.7L794.4 3047L800.5 3083.5L804.2 3144.4L807.8 3115.1L810.3 3059.1L812.7 2998.3L813.9 2983.7L816.4 3010.4L818.8 3071.3L821.2 3095.7L826.1 3129.7L828.5 3034.8L830.5 2937.4L831.7 2835.1L833.4 2937.4L835.8 3034.8L838.3 3107.8L843.1 3149.2L848 3107.8L852.9 3078.6L860.2 3039.7L861.4 2993.4L865 2944.7L872.4 2920.4L876.7 2876.5L879.2 2925.2L880.9 2964.2L885.7 3003.1L893.1 3037.2L896.7 3071.3L904 3059.1L907.7 3083.5L913.7 3047L915 3034.8L917.4 3059.1L921.1 3095.7L927.1 3083.5L928.4 3129.7L938.1 3154.1L939.3 3197.9L944.2 3241.8L951.7 3253.6L957.5 3271.1L960.5 3297.4L967.8 3287.2L969.2 3253.6L976.5 3206.8L978 3192.2L980.9 3250.7L983.8 3265.3L980.9 3288.6L985.3 3309.1L992.6 3282.8L995.5 3279.9L999.9 3300.3L1002.8 3320.8L1013.1 3317.9L1020.4 3323.7L1033.5 3341.2L1037.9 3355.8L1040.8 3361.7L1054 3377.8L1062.7 3370.5L1071.5 3373.4L1091.9 3364.6L1094.9 3385.1L1086.1 3393.8L1083.2 3399.7L1109.5 3398.2L1118.2 3389.5L1127 3373.4L1132.9 3388L1138.7 3389.5L1148.9 3404.1L1156.2 3408.4L1166.5 3405.5L1170.8 3423.1L1179.6 3409.9L1188.4 3385.1L1195.7 3376.3L1204.4 3370.5L1213.2 3352.9L1214.7 3329.5L1220.5 3341.2L1229.3 3341.2L1232.2 3370.5L1235.1 3355.8L1242.4 3338.3L1245.4 3320.8L1252.7 3312L1264.4 3306.2L1270.2 3279.9L1276 3300.3L1281.9 3297.4L1283.3 3279.9L1284.8 3265.3L1290.7 3255L1300 3259.4L1311.7 3269.9L1319.2 3256.9L1321.1 3240.1L1324.8 3221.4L1328.5 3202.7L1332.3 3180.3L1334.1 3146.7L1336 3109.4L1339.7 3083.2L1343.5 3109.4L1352.8 3105.6L1360.3 3124.3L1364 3143L1369.6 3165.4L1373.3 3187.8L1378.9 3210.2L1386.4 3230.7L1390.1 3202.7L1392 3184.1L1393.9 3161.6L1395.7 3139.2L1397.6 3116.8L1399.5 3094.4L1405.1 3068.3L1408.8 3098.2L1412.5 3115L1420 3090.7L1427.5 3073.9L1429.3 3045.9L1431.2 3023.5L1433.1 3004.8L1433.8 2941.4L1434.9 2855.5L1436.1 2941.4L1436.8 3016L1444.3 3031L1455.5 3008.6L1459.2 3004.8L1463 3034.7L1466.7 3087L1468.6 3038.4L1474.2 3016L1483.5 3008.6L1474.2 2989.9L1479.8 2971.2L1487.2 2956.3L1492.8 2941.4L1494.7 2922.7L1496.6 2889.1L1500.3 2866.7L1502.2 2829.3L1504 2792L1505.9 2736L1507 2696.8L1507.8 2605.3"/>
<path class="b" d="M1539.3 2607L1539.8 2697.5L1541 2728.7L1544.7 2743.3L1548.4 2762.8L1552 2782.3L1554.4 2816.4L1555.7 2865L1557.4 2913.7L1558.8 2955.1L1561.7 2972.2L1559.3 2994.1L1564.2 3008.7L1565.4 3025.8L1565.4 3057.4L1566.6 3093.9L1567.8 3108.5L1571.5 3137.8L1581.2 3142.6L1583.7 3118.3L1584.9 3093.9L1586.1 3057.4L1586.8 3020.9L1587.8 2972.2L1588.5 2923.5L1589 2874.8L1589.7 2826.1L1591 2777.4L1592.2 2728.7L1593.4 2697.5L1593.9 2607"/>
<path class="b" d="M1618.5 2607L1619 2697.5L1620.2 2728.7L1622.1 2777.4L1625 2826.1L1627 2874.8L1628.7 2923.5L1629.9 2972.2L1631.1 3020.9L1632.4 3069.6L1634.3 3118.3L1636 3167L1634.7 3128L1638.4 3184.1L1644 3221.4L1653.4 3262.5L1657.1 3284.9L1662.7 3311L1672 3322.2L1681.4 3311L1685.1 3277.4L1688.8 3240.1L1690.7 3221.4L1694.4 3251.3L1700 3266.2L1713.1 3273.7L1722.4 3258.7"/>
</g>
</g>
<g id="axis-text">
<text y="794.9" font-size="56"><tspan x="156.8" textLength="75.0" lengthAdjust="spacingAndGlyphs">0.0</tspan></text>
<text y="660.3" font-size="56"><tspan x="156.8" textLength="76.1" lengthAdjust="spacingAndGlyphs">0.2</tspan></text>
<text y="525.7" font-size="56"><tspan x="156.8" textLength="75.0" lengthAdjust="spacingAndGlyphs">0.4</tspan></text>
<text y="391.2" font-size="56"><tspan x="156.8" textLength="76.1" lengthAdjust="spacingAndGlyphs">0.6</tspan></text>
<text y="256.6" font-size="56"><tspan x="156.8" textLength="76.1" lengthAdjust="spacingAndGlyphs">0.8</tspan></text>
<text y="122" font-size="56"><tspan x="157.7" textLength="74.9" lengthAdjust="spacingAndGlyphs">1.0</tspan></text>
<text y="1536" font-size="56"><tspan x="152.8" textLength="76.7" lengthAdjust="spacingAndGlyphs">0.0</tspan></text>
<text y="1400.6" font-size="56"><tspan x="152.8" textLength="76.7" lengthAdjust="spacingAndGlyphs">0.2</tspan></text>
<text y="1265.3" font-size="56"><tspan x="152.8" textLength="75.6" lengthAdjust="spacingAndGlyphs">0.4</tspan></text>
<text y="1129.9" font-size="56"><tspan x="152.8" textLength="76.7" lengthAdjust="spacingAndGlyphs">0.6</tspan></text>
<text y="994.6" font-size="56"><tspan x="152.8" textLength="76.7" lengthAdjust="spacingAndGlyphs">0.8</tspan></text>
<text y="859.2" font-size="56"><tspan x="153.7" textLength="75.4" lengthAdjust="spacingAndGlyphs">1.0</tspan></text>
<text y="2716.4" font-size="56"><tspan x="137.8" textLength="76.5" lengthAdjust="spacingAndGlyphs">0.0</tspan></text>
<text y="2580.5" font-size="56"><tspan x="137.8" textLength="77.6" lengthAdjust="spacingAndGlyphs">0.2</tspan></text>
<text y="2444.6" font-size="56"><tspan x="137.8" textLength="76.5" lengthAdjust="spacingAndGlyphs">0.4</tspan></text>
<text y="2308.8" font-size="56"><tspan x="137.8" textLength="77.5" lengthAdjust="spacingAndGlyphs">0.6</tspan></text>
<text y="2172.9" font-size="56"><tspan x="137.8" textLength="77.5" lengthAdjust="spacingAndGlyphs">0.8</tspan></text>
<text y="2037" font-size="56"><tspan x="138.7" textLength="76.3" lengthAdjust="spacingAndGlyphs">1.0</tspan></text>
<text y="3463.2" font-size="56"><tspan x="137.8" textLength="76.5" lengthAdjust="spacingAndGlyphs">0.0</tspan></text>
<text y="3327" font-size="56"><tspan x="137.8" textLength="77.6" lengthAdjust="spacingAndGlyphs">0.2</tspan></text>
<text y="3190.7" font-size="56"><tspan x="137.8" textLength="76.5" lengthAdjust="spacingAndGlyphs">0.4</tspan></text>
<text y="3054.5" font-size="56"><tspan x="137.8" textLength="77.5" lengthAdjust="spacingAndGlyphs">0.6</tspan></text>
<text y="2918.2" font-size="56"><tspan x="137.8" textLength="77.5" lengthAdjust="spacingAndGlyphs">0.8</tspan></text>
<text y="2782" font-size="56"><tspan x="138.7" textLength="76.3" lengthAdjust="spacingAndGlyphs">1.0</tspan></text>
<text y="1613.1" font-size="56"><tspan x="271.8" textLength="51.6" lengthAdjust="spacingAndGlyphs">-8</tspan></text>
<text y="1613.1" font-size="56"><tspan x="493.3" textLength="51.6" lengthAdjust="spacingAndGlyphs">-6</tspan></text>
<text y="1613.1" font-size="56"><tspan x="715.7" textLength="49.3" lengthAdjust="spacingAndGlyphs">-4</tspan></text>
<text y="1613.1" font-size="56"><tspan x="936.2" textLength="51.6" lengthAdjust="spacingAndGlyphs">-2</tspan></text>
<text y="1613.1" font-size="56"><tspan x="1170.4" textLength="31.1" lengthAdjust="spacingAndGlyphs">0</tspan></text>
<text y="1613.1" font-size="56"><tspan x="1392.1" textLength="29.9" lengthAdjust="spacingAndGlyphs">2</tspan></text>
<text y="1613.1" font-size="56"><tspan x="1613.8" textLength="31.1" lengthAdjust="spacingAndGlyphs">4</tspan></text>
<text y="3541" font-size="56"><tspan x="256.6" textLength="51.6" lengthAdjust="spacingAndGlyphs">-8</tspan></text>
<text y="3541" font-size="56"><tspan x="478.3" textLength="51.6" lengthAdjust="spacingAndGlyphs">-6</tspan></text>
<text y="3541" font-size="56"><tspan x="701.1" textLength="49.3" lengthAdjust="spacingAndGlyphs">-4</tspan></text>
<text y="3541" font-size="56"><tspan x="921.8" textLength="51.6" lengthAdjust="spacingAndGlyphs">-2</tspan></text>
<text y="3541" font-size="56"><tspan x="1156.4" textLength="31.1" lengthAdjust="spacingAndGlyphs">0</tspan></text>
<text y="3541" font-size="56"><tspan x="1378.3" textLength="29.9" lengthAdjust="spacingAndGlyphs">2</tspan></text>
<text y="3541" font-size="56"><tspan x="1600.2" textLength="31.1" lengthAdjust="spacingAndGlyphs">4</tspan></text>
<text y="1701.9" font-size="64.5" font-weight="bold"><tspan x="836.1" textLength="202.3" lengthAdjust="spacingAndGlyphs">Energy</tspan> <tspan x="1063.8" textLength="124.7" lengthAdjust="spacingAndGlyphs">(eV)</tspan></text>
<text y="3640.7" font-size="64.5" font-weight="bold"><tspan x="828.1" textLength="203.1" lengthAdjust="spacingAndGlyphs">Energy</tspan> <tspan x="1056.4" textLength="125.3" lengthAdjust="spacingAndGlyphs">(eV)</tspan></text>
<text transform="translate(96.8 0) rotate(-90)" y="0" font-size="64.5" font-weight="bold"><tspan x="-1222.2" textLength="147.4" lengthAdjust="spacingAndGlyphs">Local</tspan> <tspan x="-1060.8" textLength="127.0" lengthAdjust="spacingAndGlyphs">DOS</tspan> <tspan x="-921.9" textLength="520.9" lengthAdjust="spacingAndGlyphs">(states/eV/atom)</tspan></text>
<text transform="translate(76.1 0) rotate(-90)" y="0" font-size="64.5" font-weight="bold"><tspan x="-3143.9" textLength="148.2" lengthAdjust="spacingAndGlyphs">Local</tspan> <tspan x="-2981.6" textLength="127.2" lengthAdjust="spacingAndGlyphs">DOS</tspan> <tspan x="-2841.9" textLength="523.4" lengthAdjust="spacingAndGlyphs">(states/eV/atom)</tspan></text>
</g>
<g id="panel-labels">
<text y="147.7" font-size="64.5"><tspan x="336.1" textLength="79.8" lengthAdjust="spacingAndGlyphs">(a)</tspan> <tspan x="425.8" textLength="58.3" lengthAdjust="spacingAndGlyphs">C:</tspan> <tspan x="498.4" textLength="198.8" lengthAdjust="spacingAndGlyphs">Fe-C-Ti</tspan></text>
<text y="889.9" font-size="64.5"><tspan x="338.7" textLength="82.1" lengthAdjust="spacingAndGlyphs">(b)</tspan> <tspan x="431.3" textLength="57.6" lengthAdjust="spacingAndGlyphs">C:</tspan> <tspan x="504" textLength="198.8" lengthAdjust="spacingAndGlyphs">Fe-Ti-C</tspan></text>
<text y="2070.3" font-size="64.5"><tspan x="322" textLength="74.7" lengthAdjust="spacingAndGlyphs">(c)</tspan> <tspan x="407.8" textLength="68.9" lengthAdjust="spacingAndGlyphs">Ti:</tspan> <tspan x="491.4" textLength="200.5" lengthAdjust="spacingAndGlyphs">Fe-C-Ti</tspan></text>
<text y="2808.6" font-size="64.5"><tspan x="323.3" textLength="82.9" lengthAdjust="spacingAndGlyphs">(d)</tspan> <tspan x="416.6" textLength="70.0" lengthAdjust="spacingAndGlyphs">Ti:</tspan> <tspan x="502" textLength="199.2" lengthAdjust="spacingAndGlyphs">Fe-Ti-C</tspan></text>
</g>
<rect x="1021.7" y="107.6" width="567.8" height="160.3" fill="#fff" stroke="#000" stroke-width="4.8" shape-rendering="crispEdges"/>
<path class="r" d="M1078.1 148.6H1206.1"/>
<path class="b" d="M1078.1 231.5H1191"/>
<rect x="851" y="1998" width="546.3" height="169.7" fill="#fff" stroke="#000" stroke-width="4.8" shape-rendering="crispEdges"/>
<path class="r" d="M895.7 2040.1H1020"/>
<path class="b" d="M895.7 2125.9H1009"/>
<g id="legend-text">
<text y="166.8" font-size="54.3"><tspan x="1219.8" textLength="221.7" lengthAdjust="spacingAndGlyphs">interface</tspan></text>
<text y="247.9" font-size="54.3"><tspan x="1220.3" textLength="170.2" lengthAdjust="spacingAndGlyphs">middle</tspan> <tspan x="1401.2" textLength="48.2" lengthAdjust="spacingAndGlyphs">of</tspan> <tspan x="1461.2" textLength="78.3" lengthAdjust="spacingAndGlyphs">TiC</tspan></text>
<text y="2059.1" font-size="54.3"><tspan x="1035.9" textLength="223.7" lengthAdjust="spacingAndGlyphs">interface</tspan></text>
<text y="2144.4" font-size="54.3"><tspan x="1036.6" textLength="170.2" lengthAdjust="spacingAndGlyphs">middle</tspan> <tspan x="1218.1" textLength="48.2" lengthAdjust="spacingAndGlyphs">of</tspan> <tspan x="1278.7" textLength="78.1" lengthAdjust="spacingAndGlyphs">TiC</tspan></text>
</g>
</svg></body></html>
